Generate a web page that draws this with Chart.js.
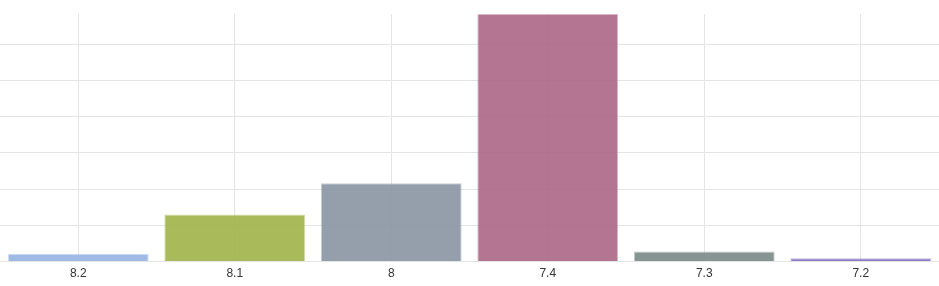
<!DOCTYPE html>
<html>
<head>
<meta charset="utf-8">
<script src="https://cdn.jsdelivr.net/npm/chart.js@4"></script>
<style>
  html, body { margin: 0; padding: 0; background: #ffffff; }
  #wrap { width: 939px; height: 286px; }
</style>
</head>
<body>
<div id="wrap"><canvas id="c"></canvas></div>
<script>
const categories = ["8.2", "8.1", "8", "7.4", "7.3", "7.2"];
const values = [4.3, 26, 43.2, 136.7, 5.6, 1.9];
const yStep = 20;
const fillColors = [
  "rgba(149,179,225,0.9)",
  "rgba(158,179,72,0.9)",
  "rgba(138,148,162,0.9)",
  "rgba(172,102,135,0.9)",
  "rgba(122,137,134,0.9)",
  "rgba(130,109,192,0.9)"
];
const borderColors = [
  "rgba(149,179,225,0.45)",
  "rgba(158,179,72,0.45)",
  "rgba(138,148,162,0.45)",
  "rgba(172,102,135,0.45)",
  "rgba(122,137,134,0.45)",
  "rgba(130,109,192,0.45)"
];
const yMax = Math.max(...values);

new Chart(document.getElementById("c"), {
  type: "bar",
  data: {
    labels: categories,
    datasets: [{
      data: values,
      backgroundColor: fillColors,
      borderColor: borderColors,
      borderWidth: 1,
      barPercentage: 0.9,
      categoryPercentage: 1.0
    }]
  },
  options: {
    responsive: true,
    maintainAspectRatio: false,
    animation: false,
    layout: { padding: { top: 14, left: 0, right: 0, bottom: 0 } },
    plugins: { legend: { display: false }, tooltip: { enabled: false } },
    scales: {
      x: {
        grid: { display: true, offset: false, drawTicks: false, color: "#e4e4e4" },
        border: { display: true, color: "#e4e4e4" },
        ticks: { color: "#333333", font: { family: "Liberation Sans, Arial, sans-serif", size: 12 }, padding: 5 }
      },
      y: {
        beginAtZero: true,
        min: 0,
        max: yMax,
        grid: {
          display: true, drawTicks: false,
          color: (ctx) => (ctx.tick && ctx.tick.value % yStep !== 0) ? "rgba(0,0,0,0)" : "#e4e4e4"
        },
        border: { display: false },
        ticks: { display: false, stepSize: yStep }
      }
    }
  }
});
</script>
</body>
</html>
